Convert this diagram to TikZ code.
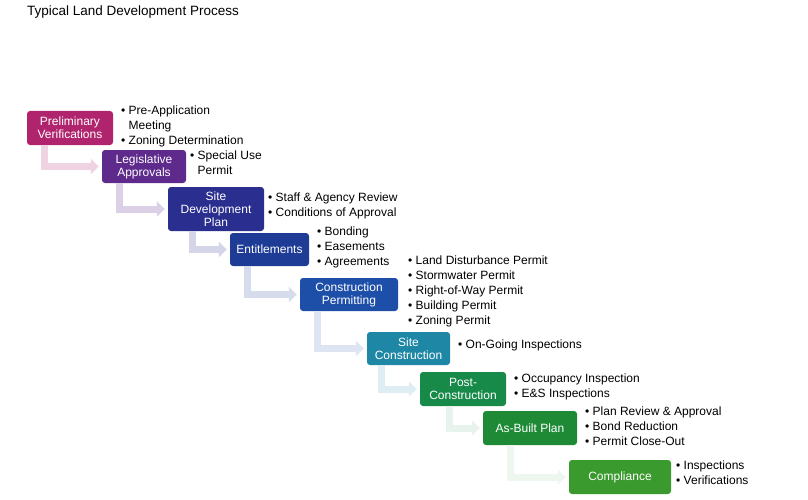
\documentclass[tikz,border=0pt]{standalone}
\usepackage{fontspec}
\setmainfont{Liberation Sans}
\usetikzlibrary{arrows.meta,positioning}
\definecolor{c1}{HTML}{B0246E}\definecolor{c2}{HTML}{5E2A8C}\definecolor{c3}{HTML}{2A2E8E}
\definecolor{c4}{HTML}{1E3C96}\definecolor{c5}{HTML}{1E4FA8}\definecolor{c6}{HTML}{1E87A5}
\definecolor{c7}{HTML}{178A4A}\definecolor{c8}{HTML}{1E8A36}\definecolor{c9}{HTML}{3A9A2E}
\begin{document}
\begin{tikzpicture}[x=1pt,y=-1pt,
 box/.style={rounded corners=3pt,text=white,align=center,font=\fontsize{12}{13}\selectfont,inner sep=0pt},
 bl/.style={anchor=north west,align=left,font=\fontsize{12}{15}\selectfont,inner sep=0pt},
 conn/.style={line width=7pt,-{Triangle[width=15pt,length=8pt]},shorten >=3pt}]
\useasboundingbox (0,0) rectangle (808,500);
\node[anchor=north west,font=\fontsize{13.5}{15}\selectfont,inner sep=0pt] (title) at (27,6) {Typical Land Development Process};
\newcommand\mybox[7]{\fill[#6,rounded corners=3pt] (#2,#3) rectangle (#4,#5);
 \node[box,minimum width={#4-#2},minimum height={#5-#3}] (#1) at ({(#2+#4)/2},{(#3+#5)/2}) {#7};}
\mybox{b1}{27}{111}{113}{145}{c1}{Preliminary\\Verifications}
\mybox{b2}{102}{150}{186}{183}{c2}{Legislative\\Approvals}
\mybox{b3}{168}{187}{264}{231}{c3}{Site\\Development\\Plan}
\mybox{b4}{230}{233}{309}{266}{c4}{Entitlements}
\mybox{b5}{300}{278}{398}{311}{c5}{Construction\\Permitting}
\mybox{b6}{367}{332}{450}{365}{c6}{Site\\Construction}
\mybox{b7}{420}{372}{506}{406}{c7}{Post-\\Construction}
\mybox{b8}{483}{411}{577}{445}{c8}{As-Built Plan}
\mybox{b9}{569}{460}{671}{494}{c9}{Compliance}
\node[bl] (t1) at (121,106) {• Pre-Application\\\phantom{• }Meeting\\• Zoning Determination};
\node[bl] (t2) at (190,151) {• Special Use\\\phantom{• }Permit};
\node[bl] (t3) at (268,193) {• Staff \& Agency Review\\• Conditions of Approval};
\node[bl] (t4) at (317,227) {• Bonding\\• Easements\\• Agreements};
\node[bl] (t5) at (408,256) {• Land Disturbance Permit\\• Stormwater Permit\\• Right-of-Way Permit\\• Building Permit\\• Zoning Permit};
\node[bl] (t6) at (458,340) {• On-Going Inspections};
\node[bl] (t7) at (514,374) {• Occupancy Inspection\\• E\&S Inspections};
\node[bl] (t8) at (585,407) {• Plan Review \& Approval\\• Bond Reduction\\• Permit Close-Out};
\node[bl] (t9) at (676,461) {• Inspections\\• Verifications};
\draw[conn,c1!20] ([xshift=18pt]b1.south west) |- (b2.west);
\draw[conn,c2!22] ([xshift=18pt]b2.south west) |- (b3.west);
\draw[conn,c3!20] ([xshift=25pt]b3.south west) |- (b4.west);
\draw[conn,c4!18] ([xshift=18pt]b4.south west) |- (b5.west);
\draw[conn,c5!15] ([xshift=18pt]b5.south west) |- (b6.west);
\draw[conn,c6!15] ([xshift=15pt]b6.south west) |- (b7.west);
\draw[conn,c7!10] ([xshift=30pt]b7.south west) |- (b8.west);
\draw[conn,c8!8] ([xshift=28pt]b8.south west) |- (b9.west);
\end{tikzpicture}
\end{document}
